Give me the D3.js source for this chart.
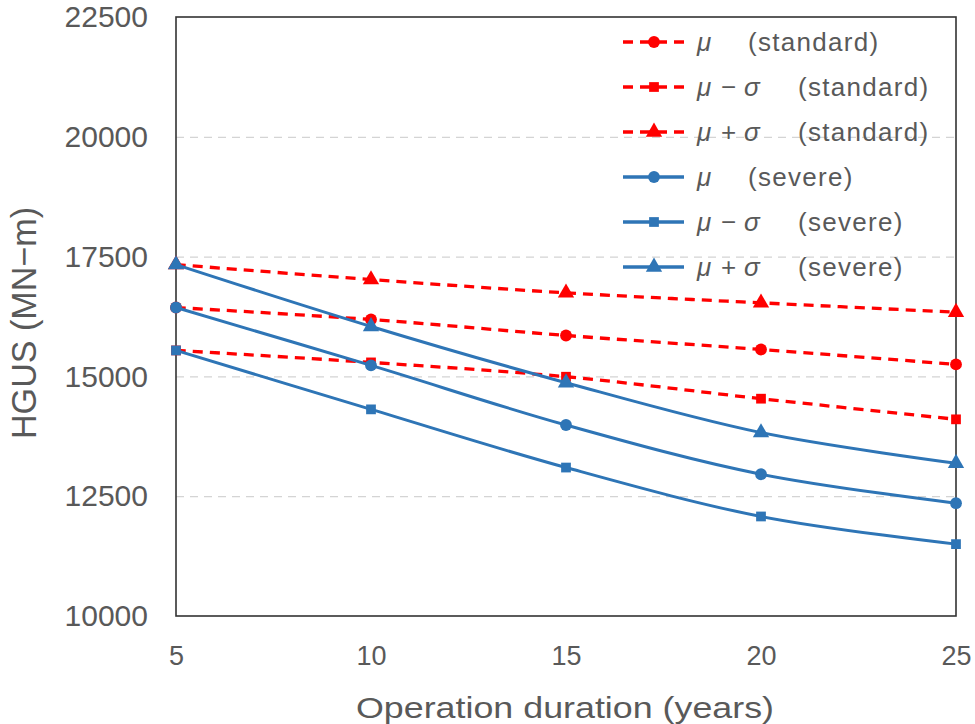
<!DOCTYPE html>
<html>
<head>
<meta charset="utf-8">
<script src="https://cdn.jsdelivr.net/npm/d3@7"></script>
<style>
  body { margin: 0; background: #ffffff; }
  svg { display: block; }
</style>
</head>
<body>
<div id="chart_container"></div>
<script>
// values
var years = [5, 10, 15, 20, 25];
var std_mean  = [16437, 16187, 15854, 15562, 15250];
var std_minus = [15542, 15292, 14993, 14535, 14104];
var std_plus  = [17333, 17021, 16744, 16535, 16340];
var sev_mean  = [16437, 15229, 13985, 12958, 12354];
var sev_minus = [15542, 14312, 13098, 12077, 11500];
var sev_plus  = [17333, 16042, 14869, 13827, 13187];

var y_ticks = [10000, 12500, 15000, 17500, 20000, 22500];
var x_title = "Operation duration (years)";
var y_title = "HGUS (MN\u2212m)";

var red = "#ff0000";
var blue = "#2e75b6";
var text_color = "#595959";

// series in draw order (red first, blue on top like excel does)
var series = [
	{values: std_mean,  color: red,  dashed: true,  shape: "circle",   sign: "",  kind: "standard"},
	{values: std_minus, color: red,  dashed: true,  shape: "square",   sign: "\u2212", kind: "standard"},
	{values: std_plus,  color: red,  dashed: true,  shape: "triangle", sign: "+", kind: "standard"},
	{values: sev_mean,  color: blue, dashed: false, shape: "circle",   sign: "",  kind: "severe"},
	{values: sev_minus, color: blue, dashed: false, shape: "square",   sign: "\u2212", kind: "severe"},
	{values: sev_plus,  color: blue, dashed: false, shape: "triangle", sign: "+", kind: "severe"}
];

var width = 975, height = 724;
var plot_left = 176, plot_right = 956, plot_top = 17, plot_bottom = 616;
var font = "'Liberation Sans', Arial, sans-serif";

var svgContainer = d3.select("#chart_container").append("svg")
	.attr("width", width)
	.attr("height", height);

var x = d3.scaleLinear().domain([5, 25]).range([plot_left, plot_right]);
var y = d3.scaleLinear().domain([10000, 22500]).range([plot_bottom, plot_top]);

function symbolFor(shape){
	if(shape == "circle") return d3.symbol().type(d3.symbolCircle).size(110);
	if(shape == "square") return d3.symbol().type(d3.symbolSquare).size(95);
	return d3.symbol().type(d3.symbolTriangle).size(115);
}

//gridlines (dashed, light gray) - skip the top one, the border covers it
var gridAxis = d3.axisLeft(y)
	.tickValues(y_ticks.filter(function(t){ return t > 10000 && t < 22500; }))
	.tickSize(-(plot_right - plot_left))
	.tickFormat("");
var grid = svgContainer.append("g")
	.attr("transform", "translate(" + plot_left + ",0)")
	.call(gridAxis);
grid.select(".domain").remove();
grid.selectAll(".tick line")
	.attr("stroke", "#d4d4d4")
	.attr("stroke-width", 1.3)
	.attr("stroke-dasharray", "8,6");

//y tick labels
var yAxis = d3.axisLeft(y).tickValues(y_ticks).tickSize(0).tickPadding(28)
	.tickFormat(d3.format("d"));
var ya = svgContainer.append("g")
	.attr("transform", "translate(" + plot_left + ",0)")
	.call(yAxis);
ya.select(".domain").remove();
ya.selectAll("text")
	.attr("font-family", font)
	.attr("font-size", 30)
	.attr("fill", text_color);

//x tick labels
var xAxis = d3.axisBottom(x).tickValues(years).tickSize(0).tickPadding(30)
	.tickFormat(d3.format("d"));
var xa = svgContainer.append("g")
	.attr("transform", "translate(0," + plot_bottom + ")")
	.call(xAxis);
xa.select(".domain").remove();
xa.selectAll("text")
	.attr("font-family", font)
	.attr("font-size", 27)
	.attr("fill", text_color);

//plot border
svgContainer.append("rect")
	.attr("x", plot_left)
	.attr("y", plot_top)
	.attr("width", plot_right - plot_left)
	.attr("height", plot_bottom - plot_top)
	.attr("fill", "none")
	.attr("stroke", "#333333")
	.attr("stroke-width", 1.6);

//axis titles
svgContainer.append("text")
	.attr("x", 565)
	.attr("y", 718)
	.attr("text-anchor", "middle")
	.attr("font-family", font)
	.attr("font-size", 30)
	.attr("fill", text_color)
	.attr("textLength", 418)
	.attr("lengthAdjust", "spacingAndGlyphs")
	.text(x_title);

svgContainer.append("text")
	.attr("transform", "translate(36,323) rotate(-90)")
	.attr("text-anchor", "middle")
	.attr("font-family", font)
	.attr("font-size", 35)
	.attr("fill", text_color)
	.attr("textLength", 232)
	.attr("lengthAdjust", "spacingAndGlyphs")
	.text(y_title);

//lines and markers
var line = d3.line()
	.x(function(d, i){ return x(years[i]); })
	.y(function(d){ return y(d); })
	.curve(d3.curveCatmullRom.alpha(0));

for(var s = 0; s < series.length; s++){
	var ser = series[s];
	svgContainer.append("path")
		.datum(ser.values)
		.attr("d", line)
		.attr("fill", "none")
		.attr("stroke", ser.color)
		.attr("stroke-width", ser.dashed ? 3.3 : 3)
		.attr("stroke-dasharray", ser.dashed ? "10,7" : null);

	svgContainer.append("g").selectAll("path")
		.data(ser.values)
		.enter().append("path")
		.attr("d", symbolFor(ser.shape))
		.attr("transform", function(d, i){ return "translate(" + x(years[i]) + "," + y(d) + ")"; })
		.attr("fill", ser.color);
}

//legend (no box, no background)
var legend_x = 623, legend_y = 42, legend_step = 45;
var text_x = 697;
for(var s = 0; s < series.length; s++){
	var ser = series[s];
	var ly = legend_y + s * legend_step;
	svgContainer.append("line")
		.attr("x1", legend_x).attr("x2", legend_x + 61)
		.attr("y1", ly).attr("y2", ly)
		.attr("stroke", ser.color)
		.attr("stroke-width", 3.3)
		.attr("stroke-dasharray", ser.dashed ? "10,7" : null);
	svgContainer.append("path")
		.attr("d", symbolFor(ser.shape))
		.attr("transform", "translate(" + (legend_x + 31) + "," + ly + ")")
		.attr("fill", ser.color);

	var t = svgContainer.append("text")
		.attr("x", text_x)
		.attr("y", ly + 9)
		.attr("font-family", font)
		.attr("font-size", 26)
		.attr("fill", text_color);
	t.append("tspan").attr("font-style", "italic").text("\u03bc");
	var paren_x = text_x + 51;
	if(ser.sign != ""){
		t.append("tspan").attr("x", text_x + 24).text(ser.sign);
		t.append("tspan").attr("x", text_x + 47).attr("font-style", "italic").text("\u03c3");
		paren_x = text_x + 101;
	}
	t.append("tspan").attr("x", paren_x)
		.attr("letter-spacing", 1.3)
		.text("(" + ser.kind + ")");
}
</script>
</body>
</html>
